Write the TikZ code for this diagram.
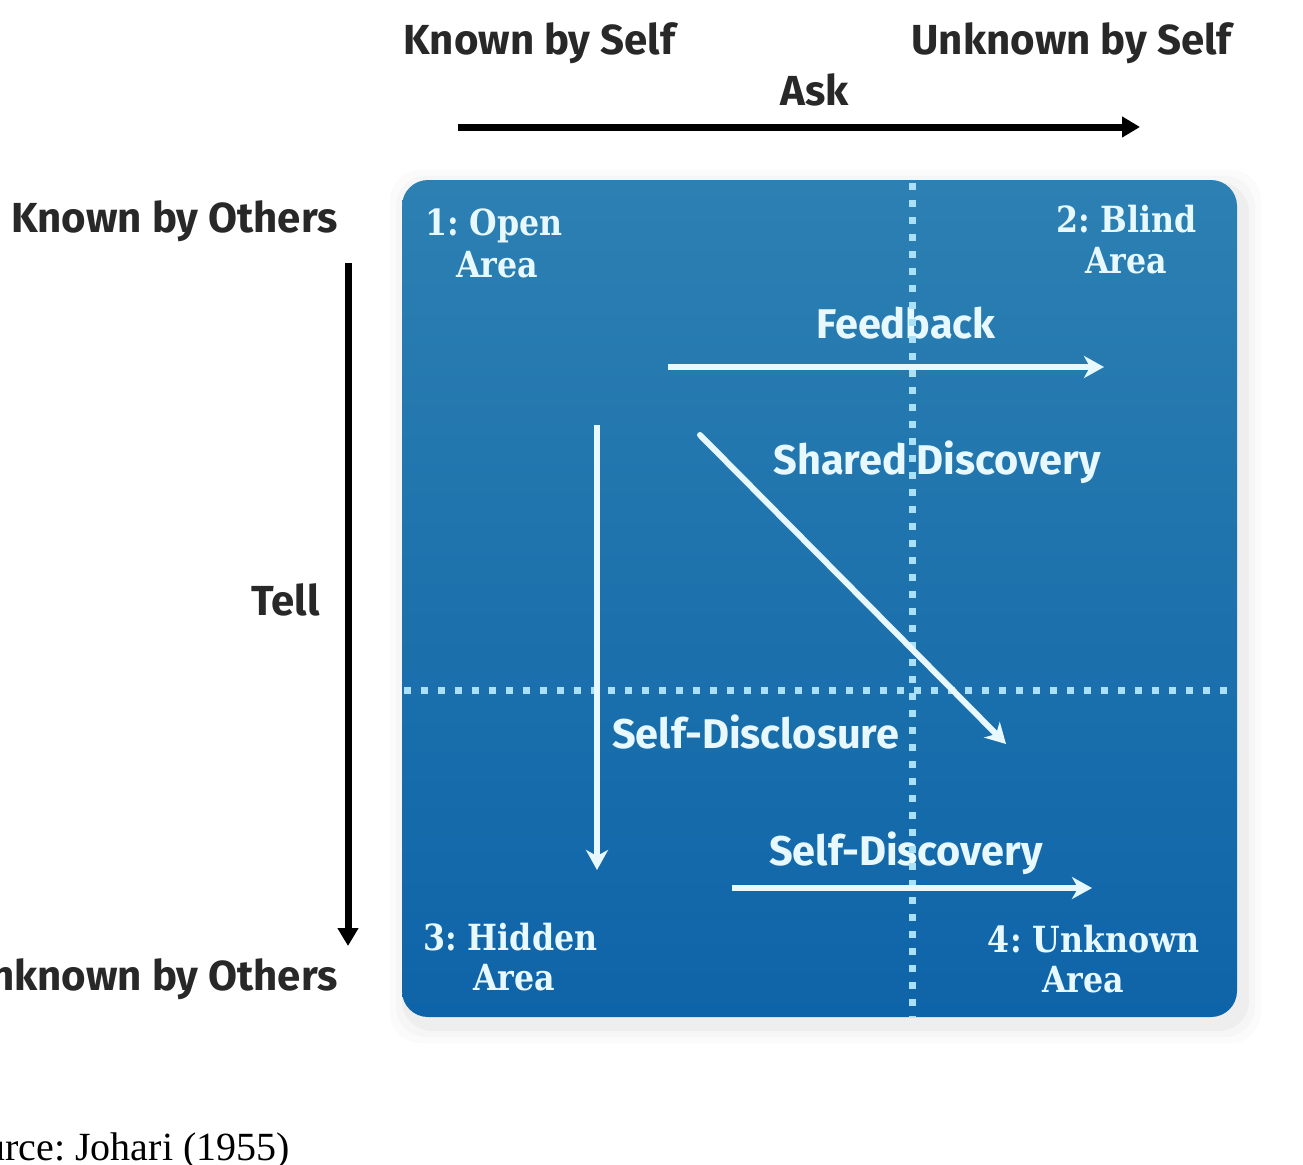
\documentclass[tikz,border=0pt]{standalone}
\usepackage{fontspec}
\setmainfont{Fira Sans}
\newfontfamily\quadfont{DejaVu Serif}
\newfontfamily\srcfont{Liberation Serif}
\usetikzlibrary{arrows.meta}
\definecolor{boxtop}{RGB}{44,128,178}
\definecolor{boxbot}{RGB}{14,100,168}
\definecolor{wtext}{RGB}{232,248,255}
\definecolor{dotc}{RGB}{170,225,248}
\definecolor{ktext}{RGB}{40,40,40}
\tikzset{
  blab/.style={text=ktext, font=\fontsize{42}{44}\selectfont\bfseries, inner sep=0pt},
  wlab/.style={text=wtext, font=\fontsize{41.5}{44}\selectfont\bfseries, inner sep=0pt},
  qlab/.style={text=wtext, font=\fontsize{36}{41}\selectfont\quadfont\bfseries, inner sep=0pt, align=center},
  karrow/.style={line width=7pt, black, -{Triangle[length=18pt,width=20pt]}},
  warrow/.style={line width=6pt, wtext, -{Stealth[length=20pt,width=22pt,inset=6pt]}},
  dotline/.style={line width=7pt, dotc, dash pattern=on 7pt off 10pt},
}
\begin{document}
\frenchspacing
\begin{tikzpicture}[x=1pt,y=-1pt]
\useasboundingbox (0,0) rectangle (1303,1164);
\clip (0,0) rectangle (1303,1164);
% shadow
\foreach \s/\o in {18/0.015,12/0.02,6/0.03}{
  \fill[black, opacity=\o, rounded corners=30] (402-\s+6,180-\s+8) rectangle (1237+\s+6,1017+\s+8);
}
% box
\path[rounded corners=26, top color=boxtop, bottom color=boxbot, draw=none] (402,180) rectangle (1237,1017);
\node[draw=none, inner sep=0pt, minimum width=835pt, minimum height=837pt] (box) at (819.5,598.5) {};

% outside labels
\node[blab, anchor=base west] (kself) at (403,55) {Known by Self};
\node[blab, anchor=base east] (uself) at (1232,55) {Unknown by Self};
\node[blab, anchor=base] (ask) at (815,105) {Ask};
\node[blab, anchor=base east] (kothers) at (338,232) {Known by Others};
\node[blab, anchor=base east] (uothers) at (338,990) {Unknown by Others};
\node[blab, anchor=base east] (tell) at (320,615) {Tell};
\node[text=black, font=\fontsize{40}{42}\selectfont\srcfont, inner sep=0pt, anchor=base east] (src) at (290,1160) {Source: Johari (1955)};

% black arrows
\coordinate (askS) at (458,127);
\coordinate (askE) at (1140,127);
\draw[karrow] (askS) -- (askE);
\coordinate (tellS) at (348,263);
\coordinate (tellE) at (348,946);
\draw[karrow] (tellS) -- (tellE);

% quadrant labels
\node[qlab, anchor=base west] (q1a) at (425,235) {\scalebox{0.88}[1]{1: Open}};
\node[qlab, anchor=base] (q1b) at (497,277) {\scalebox{0.88}[1]{Area}};
\node[qlab, anchor=base east] (q2a) at (1197,232) {\scalebox{0.88}[1]{2: Blind}};
\node[qlab, anchor=base] (q2b) at (1126,273) {\scalebox{0.88}[1]{Area}};
\node[qlab, anchor=base west] (q3a) at (423,950) {\scalebox{0.88}[1]{3: Hidden}};
\node[qlab, anchor=base] (q3b) at (514,990) {\scalebox{0.88}[1]{Area}};
\node[qlab, anchor=base east] (q4a) at (1200,952) {\scalebox{0.88}[1]{4: Unknown}};
\node[qlab, anchor=base] (q4b) at (1083,992) {\scalebox{0.88}[1]{Area}};

% white labels
\node[wlab, anchor=base] (fb) at (906,338) {Feedback};
\node[wlab, anchor=base] (sd) at (937,474) {Shared Discovery};
\node[wlab, anchor=base west] (sdis) at (612,748) {Self-Disclosure};
\node[wlab, anchor=base] (sdisc) at (906,865) {Self-Discovery};

% dotted dividers
\coordinate (vT) at (912,183);
\coordinate (vB) at (912,1017);
\coordinate (hL) at (404,690);
\coordinate (hR) at (1237,690);
\draw[dotline] (vT) -- (vB);
\draw[dotline] (hL) -- (hR);

% white arrows
\coordinate (fbS) at (668,367);
\coordinate (fbE) at (1104,367);
\draw[warrow] (fbS) -- (fbE);
\coordinate (sdS) at (700,435);
\coordinate (sdE) at (1006,744);
\draw[warrow, line cap=round] (sdS) -- (sdE);
\coordinate (dsS) at (597,425);
\coordinate (dsE) at (597,870);
\draw[warrow] (dsS) -- (dsE);
\coordinate (sdcS) at (732,888);
\coordinate (sdcE) at (1092,888);
\draw[warrow] (sdcS) -- (sdcE);
\end{tikzpicture}
\end{document}
